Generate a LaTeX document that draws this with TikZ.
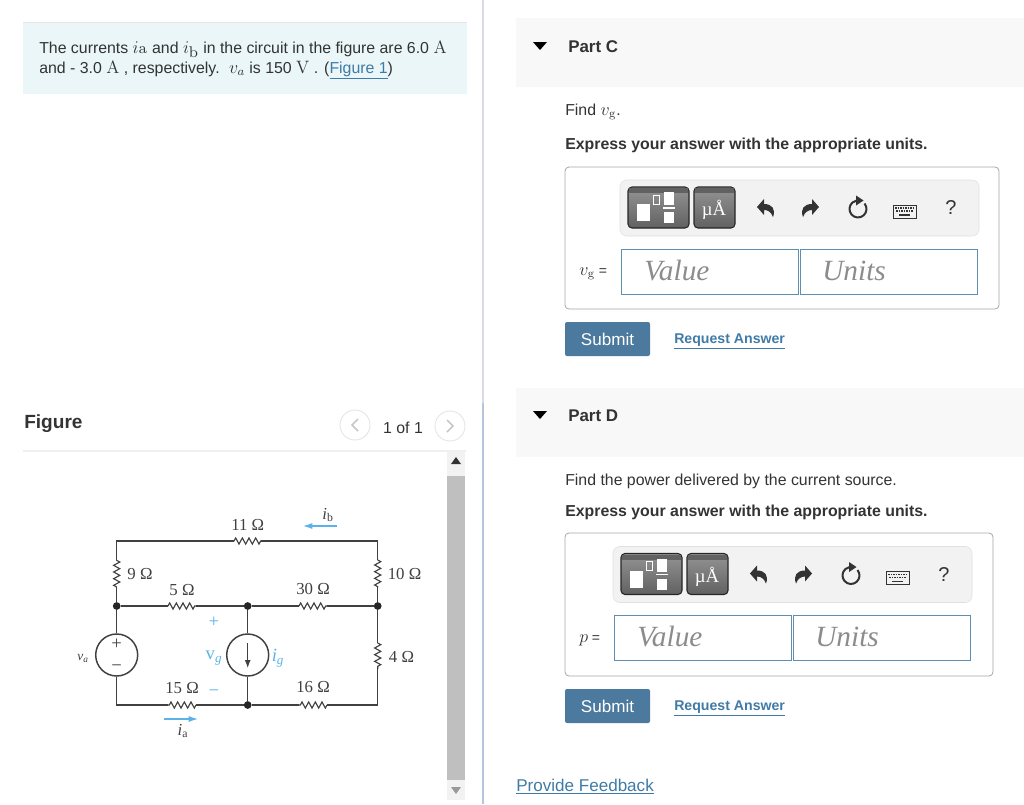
\documentclass[tikz,border=0pt]{standalone}
\usepackage[no-math]{fontspec}
\usepackage{amsmath}
\setmainfont{Liberation Sans}
\newfontfamily\circuitfont{Liberation Serif}
\usetikzlibrary{arrows.meta,decorations.pathmorphing}
\definecolor{uidark}{HTML}{333333}
\definecolor{linkblue}{HTML}{3F7BA6}
\definecolor{notefill}{HTML}{EAF6F7}
\definecolor{headfill}{HTML}{F8F8F8}
\definecolor{submitfill}{HTML}{4B7A9E}
\definecolor{wirecol}{HTML}{404040}
\definecolor{skyblue}{HTML}{5BB2EA}
\definecolor{inputedge}{HTML}{5F8FB0}
\definecolor{dividertop}{HTML}{D8DBE6}
\definecolor{dividerlow}{HTML}{B7C5DB}
\newcommand{\mth}[1]{\scalebox{1.12}{\fontsize{12}{14}\selectfont$#1$}}
\newcommand{\bigsub}[1]{\raisebox{1.6pt}{\scalebox{1.3}{$\scriptstyle\mathrm{#1}$}}}

\tikzset{
    pics/toolbar/.style={
        code={
            \draw [draw=black!12, fill=black!5, rounded corners=5pt] (0,0) rectangle (359,56);
            % template and units buttons
            \draw [keybtn] (8,7) rectangle (69,48);
            \fill [black!62] (9,8) rectangle (68,13);
            \draw [keybtn] (74,7) rectangle (115,48);
            \fill [black!62] (75,8) rectangle (114,13);
            \fill [white] (17,24) rectangle (30,41);
            \draw [white, line width=0.5pt] (33,15) rectangle (39,24);
            \fill [white] (44,12) rectangle (54,25);
            \draw [white, line width=0.8pt] (43,28) -- (55,28);
            \fill [white] (44,32) rectangle (54,43);
            \node (units) at (94,30) [text=white, font=\circuitfont\fontsize{14}{14}\selectfont, inner sep=0] {µÅ};
            % undo, redo, reset, keyboard, help
            \fill [uidark] (137,27) -- (144,19) -- (144,24) .. controls (152,24) and (156,29) .. (153,37)
                .. controls (151,32) and (148,30) .. (144,30) -- (144,35) -- cycle;
            \fill [uidark] (199,27) -- (192,19) -- (192,24) .. controls (184,24) and (180,29) .. (183,37)
                .. controls (185,32) and (188,30) .. (192,30) -- (192,35) -- cycle;
            \draw [uidark, line width=1.5pt] (244.5,23.5) arc [start angle=-40, end angle=260, radius=8.5];
            \fill [uidark] (236,15.5) -- (243.5,20.5) -- (236,25.5) -- cycle;
            \draw [uidark, fill=black!5, line width=0.7pt] (273,25) rectangle (296,38);
            \draw [uidark, line width=0.9pt, dash pattern=on 1.2pt off 0.7pt] (275,28) -- (294,28);
            \draw [uidark, line width=0.9pt, dash pattern=on 1.2pt off 0.7pt] (276,31) -- (293,31);
            \draw [uidark, line width=0.8pt] (279,35) -- (290,35);
            \node (help) at (331,28) [text=uidark, font=\fontsize{15}{15}\selectfont, inner sep=0] {?};
            % input fields
            \draw [inputedge, fill=white, line width=0.75pt] (1,69) rectangle (178,114);
            \draw [inputedge, fill=white, line width=0.75pt] (180.5,69) rectangle (357.5,114);
            \node (value) at (24,100) [placeholder] {Value};
            \node (unitsfield) at (202,100) [placeholder] {Units};
        }
    }
}

\begin{document}
\begin{tikzpicture}[
                    x=0.75pt,
                    y=-0.75pt,
                    uitext/.style={
                        anchor=base west,
                        inner sep=0,
                        text=uidark,
                        font=\fontsize{11.9}{14}\selectfont
                    },
                    uibold/.style={
                        uitext,
                        font=\fontsize{11.9}{14}\selectfont\bfseries
                    },
                    parthead/.style={
                        uitext,
                        font=\fontsize{12.7}{14}\selectfont\bfseries
                    },
                    linktext/.style={
                        anchor=base west,
                        inner sep=0,
                        text=linkblue,
                        font=\fontsize{10.6}{14}\selectfont\bfseries
                    },
                    placeholder/.style={
                        anchor=base west,
                        inner sep=0,
                        text=black!45,
                        font=\circuitfont\itshape\fontsize{22}{22}\selectfont
                    },
                    submit/.style={
                        anchor=base,
                        inner sep=0,
                        text=white,
                        font=\fontsize{12.8}{14}\selectfont
                    },
                    keybtn/.style={
                        draw=black!85,
                        line width=0.8pt,
                        rounded corners=3pt,
                        top color=black!42,
                        bottom color=black!62
                    },
                    panel/.style={
                        draw=black!35,
                        fill=white,
                        line width=0.6pt,
                        rounded corners=3pt
                    },
                    navarrow/.style={
                        line width=1.3pt,
                        draw=black!22
                    },
                    navring/.style={
                        circle,
                        draw=black!10,
                        line width=0.7pt,
                        minimum size=22.5pt,
                        inner sep=0
                    },
                    wire/.style={
                        draw=wirecol,
                        line width=0.85pt
                    },
                    res/.style={
                        wire,
                        decorate,
                        decoration={zigzag, segment length=5pt, amplitude=2.3pt}
                    },
                    junction/.style={
                        circle,
                        fill=black!85,
                        inner sep=0,
                        minimum size=5.8pt
                    },
                    source/.style={
                        circle,
                        draw=wirecol,
                        line width=1.1pt,
                        minimum size=31.5pt,
                        inner sep=0
                    },
                    value/.style={
                        inner sep=0,
                        text=wirecol,
                        font=\circuitfont\fontsize{12.6}{12}\selectfont
                    },
                    bluelabel/.style={
                        inner sep=0,
                        text=skyblue,
                        font=\circuitfont\fontsize{14}{14}\selectfont
                    },
                    currentarrow/.style={
                        draw=skyblue,
                        line width=0.8pt,
                        -{Latex[length=7pt,width=4.5pt]}
                    }
                ]
    \useasboundingbox (0,0) rectangle (1024,804);

    % page panels
    \fill [notefill] (23,22) rectangle (467,94);
    \draw [black!10, line width=0.6pt] (23,22) -- (467,22);
    \draw [dividertop, line width=1pt] (483,0) -- (483,403);
    \draw [dividerlow, line width=1pt] (483,403) -- (483,804);
    \fill [headfill] (516,18) rectangle (1024,87);
    \fill [headfill] (516,388) rectangle (1024,457);

    % problem text
    \node (line1) at (39,53) [uitext] {The currents \mth{i_{\bigsub{a}}} and \mth{i_{\bigsub{b}}} in the circuit in the figure are 6.0 \mth{\mathrm{A}}};
    \node (line2) at (39,73) [uitext] {and - 3.0 \mth{\mathrm{A}} , respectively.\hspace{7pt}\mth{v_{a}} is 150 \mth{\mathrm{V}} . (\textcolor{linkblue}{\underline{Figure 1}})};

    % figure header
    \node (figtitle) at (24,428) [uitext, font=\fontsize{14.3}{14}\selectfont\bfseries] {Figure};
    \node (prev) at (355,425) [navring] {};
    \node (next) at (450,426) [navring] {};
    \draw [navarrow] (358,419) -- (352,425) -- (358,431);
    \draw [navarrow] (447,420) -- (453,426) -- (447,432);
    \node (pageno) at (403,433) [uitext, anchor=base] {1 of 1};
    \draw [black!6, line width=0.8pt] (23,451) -- (466,451);

    % scrollbar
    \fill [black!5] (447,452) rectangle (465,800);
    \fill [black!25] (447,476) rectangle (465,780);
    \fill [uidark] (456,457) -- (461,464) -- (451,464) -- cycle;
    \fill [black!40] (456,794) -- (461,787) -- (451,787) -- cycle;

    % circuit nodes
    \coordinate (tl) at (116.7,541);
    \coordinate (tr) at (377.7,541);
    \node (ml) at (116.7,606) [junction] {};
    \node (mc) at (247.7,606) [junction] {};
    \node (mr) at (377.7,606) [junction] {};
    \coordinate (bl) at (116.7,705);
    \node (bc) at (247.7,705) [junction] {};
    \coordinate (br) at (377.7,705);
    \node (va) at (116.7,655) [source] {};
    \node (ig) at (247.7,655) [source] {};

    % resistors, each pair are the ends of one zigzag
    \coordinate (r11a) at (234,541);   \coordinate (r11b) at (261,541);
    \coordinate (r9a) at (116.7,560);  \coordinate (r9b) at (116.7,587);
    \coordinate (r10a) at (377.7,560); \coordinate (r10b) at (377.7,587);
    \coordinate (r5a) at (168,606);    \coordinate (r5b) at (196,606);
    \coordinate (r30a) at (299,606);   \coordinate (r30b) at (327,606);
    \coordinate (r15a) at (168,705);   \coordinate (r15b) at (196,705);
    \coordinate (r16a) at (299,705);   \coordinate (r16b) at (327,705);
    \coordinate (r4a) at (377.7,643);  \coordinate (r4b) at (377.7,669);

    \draw [wire] (ml) -- (r9b);
    \draw [res] (r9b) -- (r9a);
    \draw [wire] (r9a) -- (tl) -- (r11a);
    \draw [res] (r11a) -- (r11b);
    \draw [wire] (r11b) -- (tr) -- (r10a);
    \draw [res] (r10a) -- (r10b);
    \draw [wire] (r10b) -- (mr);
    \draw [wire] (ml) -- (r5a);
    \draw [res] (r5a) -- (r5b);
    \draw [wire] (r5b) -- (mc) -- (r30a);
    \draw [res] (r30a) -- (r30b);
    \draw [wire] (r30b) -- (mr) -- (r4a);
    \draw [res] (r4a) -- (r4b);
    \draw [wire] (r4b) -- (br) -- (r16b);
    \draw [res] (r16b) -- (r16a);
    \draw [wire] (r16a) -- (bc) -- (r15b);
    \draw [res] (r15b) -- (r15a);
    \draw [wire] (r15a) -- (bl) -- (va);
    \draw [wire] (va) -- (ml);
    \draw [wire] (mc) -- (ig);
    \draw [wire] (ig) -- (bc);

    % inside the sources
    \node (vaplus) at (116.7,644) [value, font=\circuitfont\fontsize{14}{14}\selectfont] {+};
    \node (vaminus) at (116.7,668) [value, font=\circuitfont\fontsize{14}{14}\selectfont] {−};
    \coordinate (igtop) at (247.7,643);
    \coordinate (igtip) at (247.7,668);
    \draw [wire, -{Latex[length=6pt,width=4.5pt]}] (igtop) -- (igtip);

    % circuit labels
    \node (l11) at (247.7,525) [value] {11 Ω};
    \node (l9) at (140,574) [value] {9 Ω};
    \node (l10) at (404.5,574) [value] {10 Ω};
    \node (l5) at (182,590) [value] {5 Ω};
    \node (l30) at (313,589) [value] {30 Ω};
    \node (l15) at (182,688) [value] {15 Ω};
    \node (l16) at (313,687) [value] {16 Ω};
    \node (l4) at (401.5,657) [value] {4 Ω};
    \node (lva) at (83,658) [value, font=\circuitfont\itshape\fontsize{10}{10}\selectfont] {v\textsubscript{a}};
    \node (lvg) at (214,658) [bluelabel] {v\textsubscript{\itshape g}};
    \node (lig) at (278,658) [bluelabel] {\itshape i\textsubscript{g}};
    \node (lplus) at (214,622) [bluelabel] {+};
    \node (lminus) at (214,693) [bluelabel] {−};
    \coordinate (iastart) at (164,719);
    \coordinate (iaend) at (198,719);
    \draw [currentarrow] (iastart) -- (iaend);
    \node (lia) at (183,731) [value] {\textit{i}\textsubscript{a}};
    \coordinate (ibstart) at (337,526);
    \coordinate (ibend) at (303,526);
    \draw [currentarrow] (ibstart) -- (ibend);
    \node (lib) at (328,515) [value] {\textit{i}\textsubscript{b}};

    % part C
    \fill [black] (533,42) -- (547,42) -- (540,50) -- cycle;
    \node (partc) at (568,52) [parthead] {Part C};
    \node (findc) at (565,115) [uitext] {Find \mth{v_{\mathrm{g}}}.};
    \node (askc) at (565,149) [uibold] {Express your answer with the appropriate units.};
    \draw [panel] (565,167) rectangle (999,309);
    \pic (tbc) at (620,180) {toolbar};
    \node (vgeq) at (579,275) [uitext, font=\fontsize{10.5}{12}\selectfont] {\mth{v_{\mathrm{g}}} =};
    \fill [submitfill, rounded corners=1.5pt] (565,322) rectangle (650,356);
    \node (submitc) at (607.5,345) [submit] {Submit};
    \node (reqc) at (674,343) [linktext] {\underline{Request Answer}};

    % part D
    \fill [black] (533,411) -- (547,411) -- (540,419) -- cycle;
    \node (partd) at (568,421) [parthead] {Part D};
    \node (findd) at (565,485) [uitext] {Find the power delivered by the current source.};
    \node (askd) at (565,516) [uibold] {Express your answer with the appropriate units.};
    \draw [panel] (565,533) rectangle (993,676);
    \pic (tbd) at (613,546.5) {toolbar};
    \node (peq) at (579,642) [uitext, font=\fontsize{10.5}{12}\selectfont] {\mth{p} =};
    \fill [submitfill, rounded corners=1.5pt] (565,689) rectangle (650,723);
    \node (submitd) at (607.5,712) [submit] {Submit};
    \node (reqd) at (674,710) [linktext] {\underline{Request Answer}};

    \node (feedback) at (516,791) [uitext, text=linkblue, font=\fontsize{12.8}{14}\selectfont] {\underline{Provide Feedback}};
\end{tikzpicture}
\end{document}
